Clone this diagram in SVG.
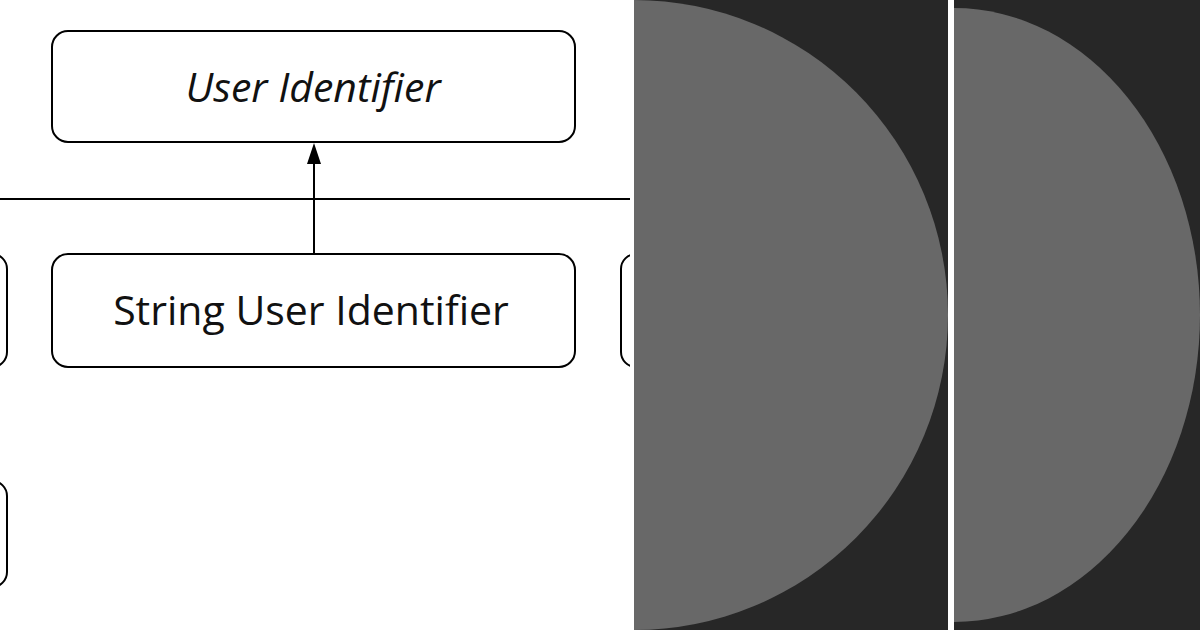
<svg xmlns="http://www.w3.org/2000/svg" width="1200" height="630" viewBox="0 0 1200 630">
<style>
.box{fill:#fff;stroke:#000;stroke-width:2}
.t{font-family:"Open Sans","Liberation Sans",sans-serif;font-size:41px;text-anchor:middle;fill:#111}
</style>
<rect width="1200" height="630" fill="#fff"/>
<g id="partials">
<rect class="box" x="-40" y="254" width="47" height="113" rx="15"/>
<rect class="box" x="-40" y="481" width="47" height="106" rx="15"/>
<rect class="box" x="621" y="254" width="60" height="113" rx="15"/>
</g>
<g id="connectors">
<line x1="0" y1="199" x2="630" y2="199" stroke="#000" stroke-width="2"/>
<line x1="314" y1="254" x2="314" y2="153" stroke="#000" stroke-width="2"/>
<path d="M307,164 L314,143 L321,164 Z" fill="#000"/>
</g>
<g id="user-identifier">
<rect class="box" x="52" y="31" width="523" height="111" rx="16"/>
<text class="t" x="313" y="102" font-style="italic" font-size="43">User Identifier</text>
</g>
<g id="string-user-identifier">
<rect class="box" x="52" y="254" width="523" height="113" rx="16"/>
<text class="t" x="311" y="325">String User Identifier</text>
</g>
<g id="panels">
<rect x="630" y="0" width="570" height="630" fill="#272727"/>
<rect x="630" y="0" width="4" height="630" fill="#fff"/>
<rect x="948" y="0" width="6" height="630" fill="#fff"/>
<path d="M634,0 A314,315 0 0 1 634,630 Z" fill="#686868"/>
<path d="M954,8 A246,307 0 0 1 954,622 Z" fill="#686868"/>
</g>
</svg>
